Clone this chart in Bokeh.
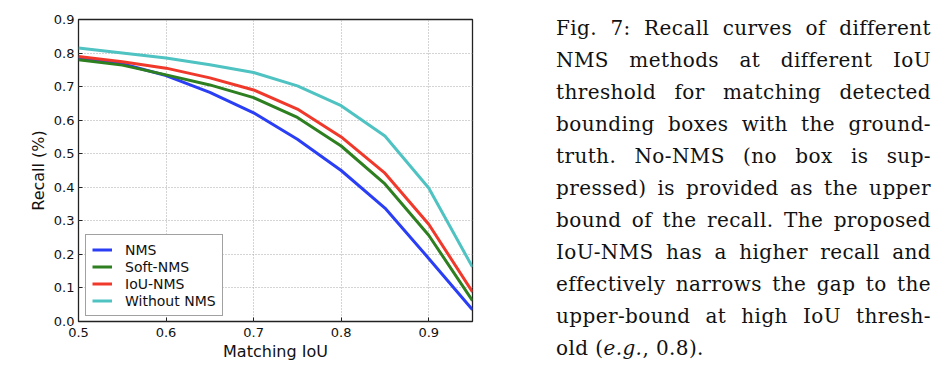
from bokeh.plotting import figure
from bokeh.layouts import row
from bokeh.models import Div, FixedTicker, PrintfTickFormatter, Range1d, Legend, LegendItem
from bokeh.embed import file_html
from bokeh.resources import INLINE

iou = [0.5, 0.55, 0.6, 0.65, 0.7, 0.75, 0.8, 0.85, 0.9, 0.95]
nms = [0.785, 0.768, 0.733, 0.683, 0.622, 0.543, 0.450, 0.338, 0.188, 0.035]
soft_nms = [0.780, 0.764, 0.735, 0.705, 0.667, 0.608, 0.523, 0.410, 0.257, 0.062]
iou_nms = [0.790, 0.774, 0.755, 0.726, 0.690, 0.633, 0.550, 0.442, 0.290, 0.088]
without_nms = [0.815, 0.800, 0.785, 0.765, 0.742, 0.702, 0.643, 0.553, 0.398, 0.162]

series_names = ["NMS", "Soft-NMS", "IoU-NMS", "Without NMS"]
series_values = [nms, soft_nms, iou_nms, without_nms]
series_colors = ["#2a3ff5", "#2d7f1f", "#f0392b", "#4fc2c2"]

x_ticks = [0.5, 0.6, 0.7, 0.8, 0.9]
y_ticks = [0.0, 0.1, 0.2, 0.3, 0.4, 0.5, 0.6, 0.7, 0.8, 0.9]

caption_lines = [
    "Fig. 7: Recall curves of different",
    "NMS methods at different IoU",
    "threshold for matching detected",
    "bounding boxes with the ground-",
    "truth. No-NMS (no box is sup-",
    "pressed) is provided as the upper",
    "bound of the recall. The proposed",
    "IoU-NMS has a higher recall and",
    "effectively narrows the gap to the",
    "upper-bound at high IoU thresh-",
    "old (<i>e.g.</i>, 0.8).",
]

p = figure(width=487, height=363, output_backend="svg", toolbar_location=None,
           x_range=Range1d(0.5, 0.95), y_range=Range1d(0.0, 0.9),
           min_border_left=78, min_border_top=19, min_border_right=15, min_border_bottom=39)
p.background_fill_color = "white"
p.border_fill_color = "white"
p.outline_line_color = "#222222"
p.outline_line_width = 1.3

items = []
for name, vals, col in zip(series_names, series_values, series_colors):
    r = p.line(iou, vals, line_color=col, line_width=3)
    items.append(LegendItem(label=name, renderers=[r]))

for ax in (p.xaxis[0], p.yaxis[0]):
    ax.major_label_text_font = "DejaVu Sans"
    ax.major_label_text_font_size = "13px"
    ax.major_label_text_color = "#111111"
    ax.axis_label_text_font = "DejaVu Sans"
    ax.axis_label_text_font_size = "16px"
    ax.axis_label_text_font_style = "normal"
    ax.axis_label_text_color = "#111111"
    ax.major_tick_in = 4
    ax.major_tick_out = 0
    ax.minor_tick_line_color = None
    ax.axis_line_color = None
    ax.major_tick_line_color = "#222222"
    ax.formatter = PrintfTickFormatter(format="%.1f")

p.xaxis[0].ticker = FixedTicker(ticks=x_ticks)
p.yaxis[0].ticker = FixedTicker(ticks=y_ticks)
p.xaxis[0].axis_label = "Matching IoU"
p.yaxis[0].axis_label = "Recall (%)"
p.xaxis[0].major_label_standoff = 6
p.xaxis[0].axis_label_standoff = 2
p.yaxis[0].major_label_standoff = 4
p.yaxis[0].axis_label_standoff = 3

p.xgrid.ticker = FixedTicker(ticks=x_ticks)
p.ygrid.ticker = FixedTicker(ticks=y_ticks)
for g in (p.xgrid[0], p.ygrid[0]):
    g.grid_line_color = "#a8a8a8"
    g.grid_line_dash = "1 2"
    g.grid_line_width = 1

legend = Legend(items=items, location=(7, 5))
legend.margin = 0
legend.padding = 6
legend.spacing = 0
legend.label_height = 17
legend.glyph_height = 17
legend.glyph_width = 20
legend.label_standoff = 13
legend.label_text_font = "DejaVu Sans"
legend.label_text_font_size = "14px"
legend.label_text_color = "#111111"
legend.border_line_color = "#444444"
legend.border_line_width = 1.3
legend.background_fill_alpha = 1
p.add_layout(legend, "center")

parts = []
for i, ln in enumerate(caption_lines):
    last = (i == len(caption_lines) - 1)
    align = "text-align:left;" if last else "text-align:justify;text-align-last:justify;"
    parts.append('<div style="%s height:32px; line-height:32px; white-space:nowrap;">%s</div>' % (align, ln))
html = ('<div style="box-sizing:border-box; padding-left:64px; padding-top:7px; font-family:\'DejaVu Serif\'; '
        'font-size:20px; letter-spacing:0.4px; color:#111; width:439px;">' + "".join(parts) + '</div>')
caption = Div(text=html, width=439, height=363)

layout = row(p, caption)
open("out.html", "w").write(file_html(layout, INLINE))
